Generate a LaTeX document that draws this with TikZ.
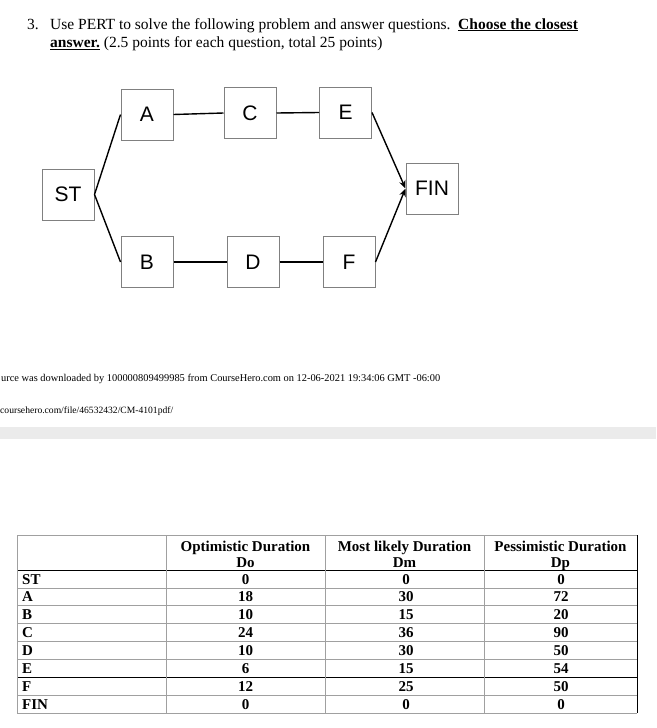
\documentclass[tikz,border=0pt]{standalone}
\usepackage{fontspec}
\setmainfont{Liberation Serif}
\newfontfamily\diagfont{Liberation Sans}
\usetikzlibrary{arrows.meta}
\definecolor{boxgray}{HTML}{808080}
\definecolor{gridgray}{HTML}{A0A0A0}
\definecolor{bandgray}{HTML}{EBEBEB}
\tikzset{
  actbox/.style={draw=boxgray, line width=1pt, minimum width=52pt, minimum height=51pt, inner sep=0pt, font=\diagfont\fontsize{21}{21}\selectfont},
  link/.style={line width=1.4pt, black},
  arrowlink/.style={link, -{Stealth[length=8pt,width=6.5pt]}},
  titletext/.style={anchor=base west, inner sep=0pt, font=\fontsize{15.5}{18}\selectfont},
  smalltext/.style={anchor=base west, inner sep=0pt, font=\fontsize{10.4}{12}\selectfont},
  urltext/.style={anchor=base west, inner sep=0pt, font=\fontsize{9.6}{12}\selectfont},
  cell/.style={inner sep=0pt, font=\bfseries\fontsize{15}{17}\selectfont},
  gridline/.style={gridgray, line width=1pt},
  darkline/.style={black, line width=1pt}
}
\begin{document}
\begin{tikzpicture}[x=1pt,y=-1pt]
\useasboundingbox (0,0) rectangle (656,728);
\fill[white] (0,0) rectangle (656,728);
% title
\node[titletext] (num) at (27,29) {3.};
\node[titletext] (t1) at (50,29) {Use PERT to solve the following problem and answer questions.\ \ \underline{\textbf{Choose the closest}}};
\node[titletext] (t2) at (50,47.5) {\underline{\textbf{answer.}} (2.5 points for each question, total 25 points)};
% network
\node[actbox] (ST) at (68,194.5) {ST};
\node[actbox] (A) at (147,114.5) {A};
\node[actbox] (C) at (250,113) {C};
\node[actbox] (E) at (345.5,112.5) {E};
\node[actbox] (FIN) at (432,188.5) {FIN};
\node[actbox] (B) at (147,262) {B};
\node[actbox] (D) at (253,262) {D};
\node[actbox] (F) at (349,262) {F};
\draw[link] (A.west) -- (ST.east) -- (B.west);
\draw[link] (A.east) -- (C.west);
\draw[link] (C.east) -- (E.west);
\draw[link] (B.east) -- (D.west);
\draw[link] (D.east) -- (F.west);
\draw[arrowlink] (E.east) -- (FIN.west);
\draw[arrowlink] (F.east) -- (FIN.west);
% download lines
\node[smalltext] (dl) at (1,381) {urce was downloaded by 100000809499985 from CourseHero.com on 12-06-2021 19:34:06 GMT -06:00};
\node[urltext] (url) at (0,413) {coursehero.com/file/46532432/CM-4101pdf/};
\fill[bandgray] (0,427) rectangle (656,439);
% table grid
\draw[gridline] (17,535) -- (637,535);
\foreach \yy in {588,605.5,623,641,659,695,713} {\draw[gridline] (17,\yy) -- (637,\yy);}
\draw[darkline] (17,570) -- (637,570);
\draw[darkline] (17,677) -- (637,677);
\draw[gridline] (17,535) -- (17,713);
\draw[gridline] (166,535) -- (166,713);
\draw[gridline] (325,535) -- (325,713);
\draw[gridline] (484,535) -- (484,713);
\draw[darkline] (637,535) -- (637,713);
% header
\node[cell, anchor=base] (h1) at (245.5,551) {Optimistic Duration};
\node[cell, anchor=base] (h1b) at (245.5,567) {Do};
\node[cell, anchor=base] (h2) at (404.5,551) {Most likely Duration};
\node[cell, anchor=base] (h2b) at (404.5,567) {Dm};
\node[cell, anchor=base] (h3) at (560.5,551) {Pessimistic Duration};
\node[cell, anchor=base] (h3b) at (560.5,567) {Dp};
% rows
\foreach \lab/\a/\b/\c [count=\i] in {ST/0/0/0, A/18/30/72, B/10/15/20, C/24/36/90, D/10/30/50, E/6/15/54, F/12/25/50, FIN/0/0/0} {
  \pgfmathsetmacro{\yb}{570+(\i-1)*17.875+14}
  \node[cell, anchor=base west] (r\i) at (22,\yb) {\lab};
  \node[cell, anchor=base] (o\i) at (245.5,\yb) {\a};
  \node[cell, anchor=base] (m\i) at (406,\yb) {\b};
  \node[cell, anchor=base] (p\i) at (561,\yb) {\c};
}
\end{tikzpicture}
\end{document}
